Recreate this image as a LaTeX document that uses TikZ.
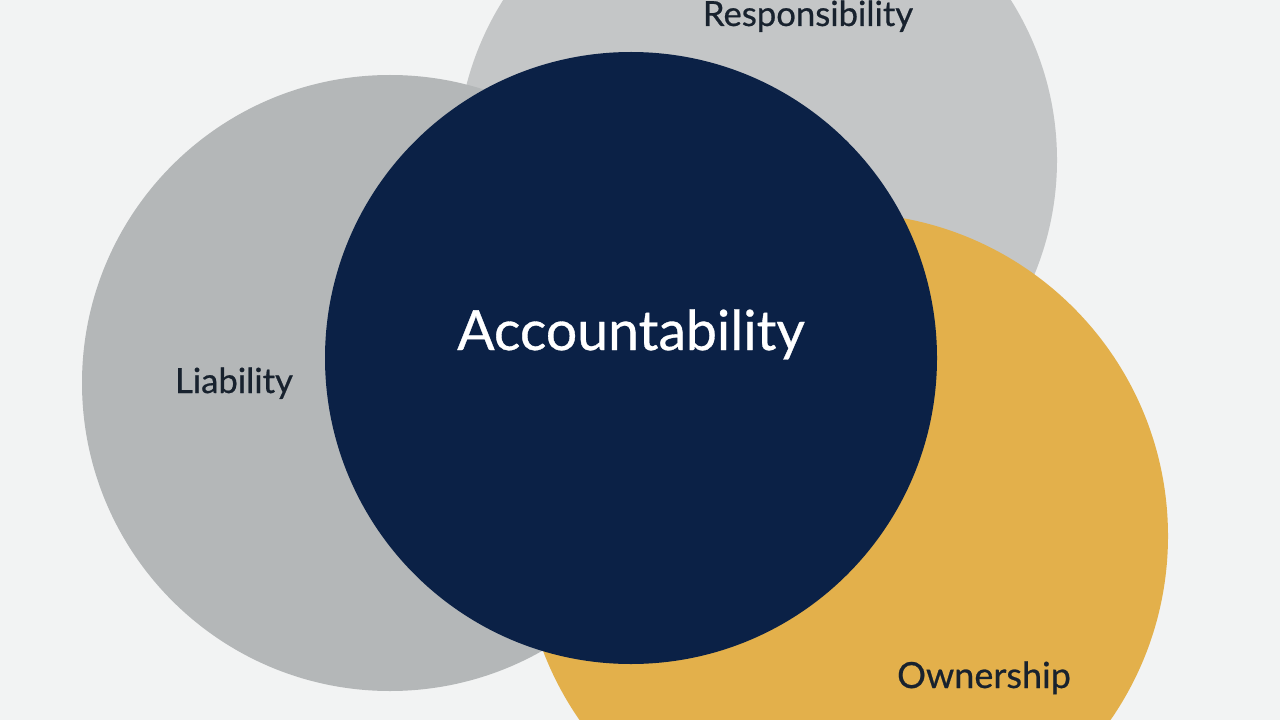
\documentclass[tikz,border=0pt]{standalone}
\usepackage{fontspec}
\setmainfont{Lato}
\usepackage{tikz}
\usetikzlibrary{
  shapes,
  positioning,  % Function "of" (e.g. [right=of x])
}
\definecolor{navy}{HTML}{0B2146}
\definecolor{liabgray}{HTML}{B4B7B8}
\definecolor{respgray}{HTML}{C4C6C7}
\definecolor{gold}{HTML}{E3B04B}
\definecolor{paper}{HTML}{F2F3F3}
\definecolor{ink}{HTML}{18222E}
\def\bigsize{\fontsize{41.5}{48}\selectfont\addfontfeature{FakeBold=0.6}}
\def\labsize{\fontsize{26}{31}\selectfont\addfontfeature{FakeBold=0.6}}
\tikzset{
  % one reference pixel = 0.75pt
  x=0.75pt,
  y=-0.75pt,
  disc/.style={
    circle,
    draw=none,
    inner sep=0mm,
    minimum size=#1*0.75pt
  },
  my label/.style={
    anchor=base,
    inner sep=0mm,
    text=ink,
    font=\labsize
  },
  my title/.style={
    anchor=base,
    inner sep=0mm,
    text=white,
    font=\bigsize
  }
}

\begin{document}
\begin{tikzpicture}
\useasboundingbox (0,0) rectangle (1280,720);
\clip (0,0) rectangle (1280,720);
\fill[paper] (0,0) rectangle (1280,720);
% Back circles
\node[disc=600,fill=respgray] (resp) at (757,160) {};
\node[disc=646,fill=gold]     (own)  at (845,536) {};
\node[disc=616,fill=liabgray] (liab) at (390,383) {};
% Front circle
\node[disc=612,fill=navy]     (acc)  at (631,358) {};
% Labels
\node[my title] (acct) at (631,350) {Accountability};
\node[my label] (respt) at (808,26)  {Responsibility};
\node[my label] (liabt) at (234,393) {Liability};
\node[my label,font=\labsize\fontsize{27}{32}\selectfont] (ownt) at (984,688) {Ownership};
\end{tikzpicture}
\end{document}
